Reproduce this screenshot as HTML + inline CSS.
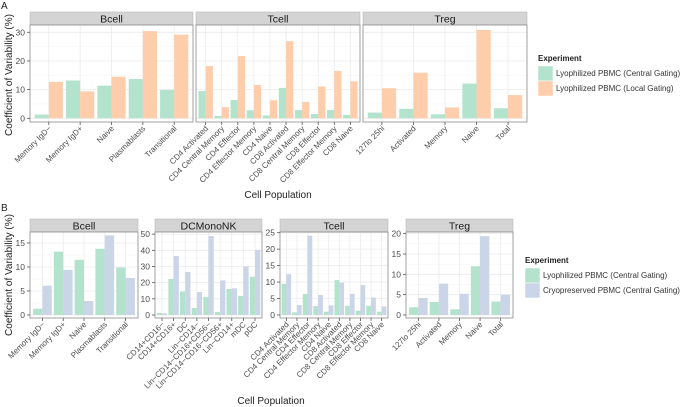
<!DOCTYPE html>
<html><head><meta charset="utf-8"><style>
body{margin:0;background:#fff;}
svg{display:block;font-family:"Liberation Sans",sans-serif;}
</style></head><body>
<svg id="c" width="685" height="407"></svg>
<script>
// ---- Panel A data ----
const aBcellCats=["Memory IgD−","Memory IgD+","Naive","Plasmablasts","Transitional"];
const aBcellCentral=[1.3,13.2,11.4,13.7,9.9];
const aBcellLocal=[12.7,9.4,14.5,30.4,29.2];
const aTcellCats=["CD4 Activated","CD4 Central Memory","CD4 Effector","CD4 Effector Memory","CD4 Naive","CD8 Activated","CD8 Central Memory","CD8 Effector","CD8 Effector Memory","CD8 Naive"];
const aTcellCentral=[9.5,0.8,6.4,2.8,1.0,10.6,2.9,1.5,2.9,1.2];
const aTcellLocal=[18.2,3.9,21.7,11.6,6.3,26.9,5.7,11.1,16.5,12.9];
const aTregCats=["127lo 25hi","Activated","Memory","Naive","Total"];
const aTregCentral=[2.0,3.3,1.4,12.1,3.5];
const aTregLocal=[10.5,15.9,3.8,30.8,8.1];
const aTicks=[0,10,20,30];
// ---- Panel B data ----
const bBcellCats=aBcellCats;
const bBcellLyo=[1.3,13.2,11.5,13.8,9.9];
const bBcellCryo=[6.1,9.4,2.9,16.6,7.7];
const bBcellTicks=[0,5,10,15];
const bDCCats=["CD14+CD16−","CD14+CD16+","DC","Lin−CD14−","Lin−CD14−CD16+CD56−","Lin−CD14−CD16−CD56+","Lin−CD14+","mDC","pDC"];
const bDCLyo=[1.2,22.3,14.6,4.3,11.1,1.9,16.1,11.8,23.7];
const bDCCryo=[1.0,36.5,26.6,14.2,48.9,21.4,16.5,30.1,40.2];
const bDCTicks=[0,10,20,30,40,50];
const bTcellCats=aTcellCats;
const bTcellLyo=[9.5,0.8,6.4,2.7,1.0,10.6,2.8,1.3,2.8,1.0];
const bTcellCryo=[12.4,3.0,24.1,6.1,2.9,9.8,6.4,9.1,5.3,2.6];
const bTcellTicks=[0,5,10,15,20,25];
const bTregCats=aTregCats;
const bTregLyo=[1.9,3.2,1.4,12.0,3.3];
const bTregCryo=[4.2,7.7,5.2,19.4,5.0];
const bTregTicks=[0,5,10,15,20];

const GREEN="#b3e2cd",ORANGE="#fdcdac",BLUE="#cbd5e8";
const svg=document.getElementById('c');
const NS="http://www.w3.org/2000/svg";
function mk(tag,attrs,parent){const e=document.createElementNS(NS,tag);for(const k in attrs)e.setAttribute(k,attrs[k]);(parent||svg).appendChild(e);return e;}
function txt(s,attrs,parent){const e=mk('text',attrs,parent);e.textContent=s;return e;}

function panel(o){
  const g=mk('g',{});
  
  
  const {x0,x1,stripTop,top,bottom,zeroY,unitPx,cats,s1,s2,c1,c2,ticks,showAxisLabels}=o;
  // strip
  const st=mk('rect',{x:x0,y:stripTop,width:x1-x0,height:top-stripTop,fill:'#d4d4d4',stroke:'#b0b0b0','stroke-width':0.5},g);
  
  
  const stt=txt(o.title,{x:(x0+x1)/2,y:stripTop+(top-stripTop)/2+4,'text-anchor':'middle','font-size':10.5,fill:'#1a1a1a'},g);
  
  
  mk('rect',{x:x0,y:top,width:x1-x0,height:bottom-top,fill:'#fff'},g);
  const n=cats.length, u=(x1-x0)/(n+0.2);
  const xc=i=>x0+(i+0.6)*u;
  const yv=v=>zeroY-v*unitPx;
  // grid
  ticks.forEach((t,k)=>{
    mk('line',{x1:x0,x2:x1,y1:yv(t),y2:yv(t),stroke:'#ebebeb','stroke-width':0.8},g);
    if(k<ticks.length-1){const m=(t+ticks[k+1])/2;mk('line',{x1:x0,x2:x1,y1:yv(m),y2:yv(m),stroke:'#f5f5f5','stroke-width':0.5},g);}
  });
  cats.forEach((c,i)=>mk('line',{x1:xc(i),x2:xc(i),y1:top,y2:bottom,stroke:'#ebebeb','stroke-width':0.8},g));
  // bars
  cats.forEach((c,i)=>{
    const bw=0.45*u;
    const b1=mk('rect',{x:xc(i)-bw,y:yv(s1[i]),width:bw,height:s1[i]*unitPx,fill:c1},g);
    
    
    const b2=mk('rect',{x:xc(i),y:yv(s2[i]),width:bw,height:s2[i]*unitPx,fill:c2},g);
    
    
  });
  mk('rect',{x:x0,y:top,width:x1-x0,height:bottom-top,fill:'none',stroke:'#8a8a8a','stroke-width':0.8},g);
  // y axis
  if(showAxisLabels){
    ticks.forEach(t=>{
      mk('line',{x1:x0-3,x2:x0,y1:yv(t),y2:yv(t),stroke:'#555','stroke-width':0.8},g);
      const l=txt(String(t),{x:x0-5,y:yv(t)+3,'text-anchor':'end','font-size':8.5,fill:'#4d4d4d'},g);
      
      
    });
  }
  // x axis
  cats.forEach((c,i)=>{
    mk('line',{x1:xc(i),x2:xc(i),y1:bottom,y2:bottom+3,stroke:'#555','stroke-width':0.8},g);
    const tx=xc(i)+3, ty=bottom+7;
    const l=txt(c,{x:tx,y:ty,'text-anchor':'end','font-size':8,fill:'#4d4d4d',transform:`rotate(-45 ${tx} ${ty})`},g);
    
    
  });
}

// Panel A
const A={stripTop:12,top:25,bottom:122,zeroY:118.3,unitPx:2.867,c1:GREEN,c2:ORANGE,ticks:aTicks,s1name:'central',s2name:'local'};
panel(Object.assign({},A,{name:'a-bcell-panel',title:'Bcell',x0:30,x1:193,cats:aBcellCats,s1:aBcellCentral,s2:aBcellLocal,showAxisLabels:true}));
panel(Object.assign({},A,{name:'a-tcell-panel',title:'Tcell',x0:196,x1:360,cats:aTcellCats,s1:aTcellCentral,s2:aTcellLocal,showAxisLabels:false}));
panel(Object.assign({},A,{name:'a-treg-panel',title:'Treg',x0:363,x1:527,cats:aTregCats,s1:aTregCentral,s2:aTregLocal,showAxisLabels:false}));

// Panel B
const B={stripTop:219,top:232,bottom:318,zeroY:315,c1:GREEN,c2:BLUE,s1name:'lyophilized',s2name:'cryopreserved',showAxisLabels:true};
panel(Object.assign({},B,{name:'b-bcell-panel',title:'Bcell',x0:30,x1:138,unitPx:4.8,ticks:bBcellTicks,cats:bBcellCats,s1:bBcellLyo,s2:bBcellCryo}));
panel(Object.assign({},B,{name:'b-dcmononk-panel',title:'DCMonoNK',x0:155,x1:262,unitPx:1.617,ticks:bDCTicks,cats:bDCCats,s1:bDCLyo,s2:bDCCryo}));
panel(Object.assign({},B,{name:'b-tcell-panel',title:'Tcell',x0:280,x1:388,unitPx:3.293,ticks:bTcellTicks,cats:bTcellCats,s1:bTcellLyo,s2:bTcellCryo}));
panel(Object.assign({},B,{name:'b-treg-panel',title:'Treg',x0:406,x1:513,unitPx:4.067,ticks:bTregTicks,cats:bTregCats,s1:bTregLyo,s2:bTregCryo}));

// labels
function lab(s,name,attrs){const e=txt(s,attrs);return e;}
lab('A','panel-a-label',{x:1,y:9,'font-size':10,fill:'#222'});
lab('B','panel-b-label',{x:1,y:211,'font-size':10,fill:'#222'});
lab('Coefficient of Variability (%)','a-y-axis-title',{x:12,y:75,'font-size':10,fill:'#222','text-anchor':'middle',transform:'rotate(-90 12 75)'});
lab('Coefficient of Variability (%)','b-y-axis-title',{x:12,y:275,'font-size':10,fill:'#222','text-anchor':'middle',transform:'rotate(-90 12 275)'});
lab('Cell Population','a-x-axis-title',{x:278,y:198,'font-size':10,fill:'#222','text-anchor':'middle'});
lab('Cell Population','b-x-axis-title',{x:271,y:404,'font-size':10,fill:'#222','text-anchor':'middle'});

function legend(x,y,title,items,name){
  const g=mk('g',{});
  txt(title,{x:x,y:y,'font-size':8,'font-weight':'bold',fill:'#222'},g);
  items.forEach((it,i)=>{
    const r=mk('rect',{x:x,y:y+5+i*15,width:15,height:15,fill:it[1],stroke:'#fff','stroke-width':0.5},g);
    
    const t=txt(it[0],{x:x+18,y:y+15+i*15,'font-size':8,fill:'#333'},g);
    
  });
}
legend(538,61,'Experiment',[['Lyophilized PBMC (Central Gating)',GREEN],['Lyophilized PBMC (Local Gating)',ORANGE]],'a-legend');
legend(525,263,'Experiment',[['Lyophilized PBMC (Central Gating)',GREEN],['Cryopreserved PBMC (Central Gating)',BLUE]],'b-legend');
</script>
</body></html>
